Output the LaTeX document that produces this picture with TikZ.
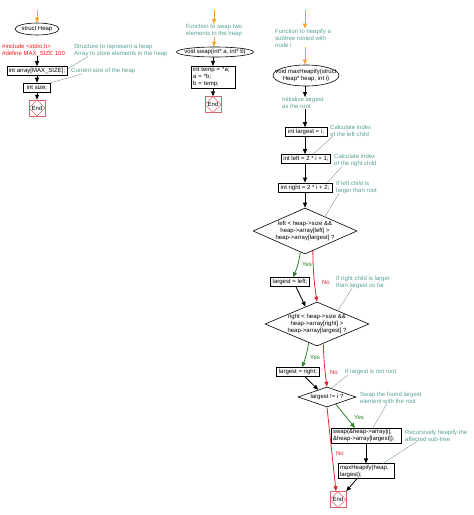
\documentclass[tikz,border=0pt]{standalone}
\usepackage{fontspec}
\setmainfont{Liberation Sans}
\usetikzlibrary{shapes.geometric,arrows.meta,calc}
\definecolor{cmtc}{RGB}{90,160,150}
\definecolor{yesc}{RGB}{40,130,40}
\definecolor{noc}{RGB}{225,40,50}
\definecolor{redt}{RGB}{240,30,30}
\definecolor{orng}{RGB}{245,165,35}
\definecolor{endc}{RGB}{215,100,110}
\definecolor{clinec}{RGB}{150,170,170}
\begin{document}
\begin{tikzpicture}[x=1pt,y=-1pt,
 every node/.style={font=\fontsize{6}{7}\selectfont, inner sep=1pt},
 box/.style={draw, line width=0.6pt, minimum height=9pt, inner xsep=2pt, inner ysep=1pt, align=left},
 term/.style={draw, ellipse, line width=0.6pt, inner sep=0pt},
 dec/.style={draw, diamond, line width=0.6pt, inner sep=0pt},
 endnode/.style={draw=endc, line width=0.5pt, minimum size=16pt, inner sep=0pt,
   path picture={\draw[endc, line width=0.5pt] (path picture bounding box.north) -- (path picture bounding box.east) -- (path picture bounding box.south) -- (path picture bounding box.west) -- cycle;}},
 cmt/.style={text=cmtc, align=left, inner sep=0pt},
 cline/.style={draw=clinec, line width=0.5pt},
 flow/.style={line width=0.8pt, -{Triangle[length=5pt,width=4pt]}},
 oflow/.style={flow, draw=orng, -{Triangle[length=5pt,width=4pt,fill=orng]}},
 yesflow/.style={flow, draw=yesc, -{Triangle[length=5pt,width=4pt,fill=yesc]}},
 noflow/.style={flow, draw=noc, -{Triangle[length=5pt,width=4pt,fill=noc]}},
 yeslab/.style={text=yesc},
 nolab/.style={text=noc}
]
\useasboundingbox (0,0) rectangle (474,515);

% ---------------- Column 1 ----------------
\coordinate (o1) at (37,10);
\node[term, minimum width=44pt, minimum height=12pt, label={center:struct Heap}] (heap) at (37,29) {};
\node[text=redt, align=left, anchor=north west, inner sep=0pt] (inc) at (2,43.5) {\#include <stdio.h>\\\#define MAX\_SIZE 100};
\node[box, minimum width=60pt] (arr) at (37,71) {int array[MAX\_SIZE];};
\node[box, minimum width=27pt] (sz) at (37,87.5) {int size;};
\node[endnode] (e1) at (37,108) {End};
\node[cmt, anchor=north west] (c1) at (74,43.5) {Structure to represent a heap\\Array to store elements in the heap};
\node[cmt, anchor=west] (c2) at (71,71) {Current size of the heap};

\draw[oflow] (o1) -- (heap);
\draw[flow] (inc.south -| arr.north) -- (arr);
\draw[flow] (arr) -- (sz);
\draw[flow] (sz) -- (e1);
\draw[cline] ([xshift=14pt]c1.south west) -- ([yshift=2pt]arr.east);
\draw[cline] ([xshift=11pt]c2.south west) -- (sz.north east);

% ---------------- Column 2 ----------------
\coordinate (o2) at (214,10);
\node[cmt, align=center] (t2) at (214,30.5) {Function to swap two\\elements in the heap};
\node[term, minimum width=77pt, minimum height=10pt, label={center:void swap(int* a, int* b)}] (swp) at (215,52) {};
\node[box, text width=40pt] (tmp) at (213,77) {int temp = *a;\\*a = *b;\\*b = temp;};
\node[endnode] (e2) at (213,104.5) {End};

\draw[oflow] (o2) -- (t2);
\draw[oflow] (t2.south -| o2) -- (swp.north -| o2);
\draw[flow] (tmp.north |- swp.south) -- (tmp);
\draw[flow] (tmp) -- (e2);

% ---------------- Column 3 ----------------
\coordinate (o3) at (305,10);
\node[cmt, anchor=north west] (t3) at (275,28.5) {Function to heapify a\\subtree rooted with\\node i};
\node[term, minimum width=66pt, minimum height=21pt, label={[align=center]center:void maxHeapify(struct\\Heap* heap, int i)}] (mh) at (306,75.5) {};
\node[cmt, anchor=north west] (t4) at (282,97) {Initialize largest\\as the root};
\node[box, minimum width=42pt] (lg) at (306,132) {int largest = i;};
\node[box, minimum width=48pt] (lf) at (306,159) {int left = 2 * i + 1;};
\node[box, minimum width=54pt] (rt) at (305,187.5) {int right = 2 * i + 2;};
\node[cmt, anchor=north west] (c3) at (330,124.5) {Calculate index\\of the left child};
\node[cmt, anchor=north west] (c4) at (334,153.5) {Calculate index\\of the right child};
\node[cmt, anchor=north west] (c5) at (336,180.5) {If left child is\\larger than root};

\node[dec, minimum width=104pt, minimum height=46pt,
  label={[align=center]center:left < heap->size \&\&\\heap->array[left] >\\heap->array[largest] ?}] (d1) at (305,231) {};
\node[box, minimum width=38pt] (ll) at (290,282) {largest = left;};
\node[cmt, anchor=north west] (c6) at (336,275.5) {If right child is larger\\than largest so far};

\node[dec, minimum width=104pt, minimum height=44pt,
  label={[align=center]center:right < heap->size \&\&\\heap->array[right] >\\heap->array[largest] ?}] (d2) at (317,324) {};
\node[box, minimum width=43pt] (lr) at (298,372) {largest = right;};
\node[cmt, anchor=west] (c7) at (345,372) {If largest is not root};

\node[dec, minimum width=58pt, minimum height=20pt, label={center:largest != i ?}] (d3) at (327,397) {};
\node[cmt, anchor=north west] (c8) at (360,391.5) {Swap the found largest\\element with the root};
\node[box, text width=66pt] (sw) at (366,435.5) {swap(\&heap->array[i],\\\&heap->array[largest]);};
\node[cmt, anchor=north west] (c9) at (405,429.5) {Recursively heapify the\\affected sub-tree};
\node[box, text width=52pt] (mx) at (366,471) {maxHeapify(heap,\\largest);};
\node[endnode] (e3) at (338,499.5) {End};

% connectors column 3
\draw[oflow] (o3) -- (o3 |- t3.north);
\draw[oflow] (t3.south -| o3) -- (mh.north -| o3);
\draw[flow] (mh.south -| o3) -- (o3 |- t4.north);
\draw[flow] (t4.south -| o3) -- (lg.north -| o3);
\draw[flow] (lg.south -| o3) -- (lf.north -| o3);
\draw[flow] (lf.south -| o3) -- (rt.north -| o3);
\draw[flow] (rt.south -| o3) -- (d1.north);

\draw[yesflow] ($(d1.south)!0.09!(d1.west)$) to[bend left=8] ([xshift=3pt]ll.north);
\node[yeslab] (y1) at (307,264) {Yes};
\draw[noflow] ($(d1.south)!0.15!(d1.east)$) to[bend right=4] (d2.north);
\node[nolab] (n1) at (326,282) {No};
\draw[flow] ([xshift=6pt]ll.south) -- ($(d2.north)!0.22!(d2.west)$);

\draw[yesflow] ($(d2.south)!0.16!(d2.west)$) to[bend left=6] ([xshift=4pt]lr.north);
\node[yeslab] (y2) at (315,357) {Yes};
\draw[noflow] ($(d2.south)!0.12!(d2.east)$) to[bend right=3] (d3.north);
\node[nolab] (n2) at (334,372) {No};
\draw[flow] ([xshift=7pt]lr.south) -- ($(d3.north)!0.3!(d3.west)$);

\draw[yesflow] ($(d3.south)!0.3!(d3.east)$) -- ([xshift=-11pt]sw.north);
\node[yeslab] (y3) at (359,417) {Yes};
\draw[flow] (sw) -- (mx);
\draw[flow] ([xshift=-9pt]mx.south) -- (e3.north east);
\draw[noflow] (d3.south) -- ([xshift=-2pt]e3.north);
\node[nolab] (n3) at (340,453) {No};

% comment lines column 3
\draw[cline] ([xshift=3pt]c3.south west) -- ([xshift=7pt]lf.north);
\draw[cline] ([xshift=8pt]c4.south west) -- ([xshift=-5pt]rt.north east);
\draw[cline] ([xshift=3pt]c5.south west) -- ($(d1.north)!0.38!(d1.east)$);
\draw[cline] ([xshift=16pt]c6.south west) -- ($(d2.north)!0.4!(d2.east)$);
\draw[cline] ([xshift=3pt]c7.south west) -- ($(d3.north)!0.15!(d3.east)$);
\draw[cline] ([xshift=27pt]c8.south west) -- ([xshift=7pt]sw.north);
\draw[cline] ([xshift=12pt]c9.south west) -- ([xshift=17pt]mx.north);
\end{tikzpicture}
\end{document}
